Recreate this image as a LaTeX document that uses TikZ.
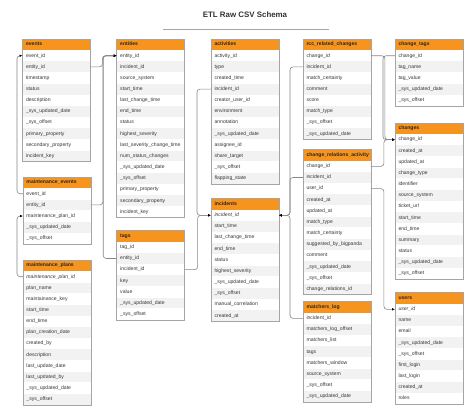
\documentclass[tikz,border=0pt]{standalone}
\usepackage{fontspec}
\setmainfont{Liberation Sans}
\usetikzlibrary{positioning,arrows.meta}

\definecolor{headorange}{RGB}{247,148,30}
\definecolor{rowgray}{RGB}{242,242,242}
\definecolor{framegray}{RGB}{165,165,165}
\definecolor{linkgray}{RGB}{135,135,135}
\definecolor{textgray}{RGB}{55,55,55}

% one table: name, top left corner, title, fields
\newcommand{\dbtable}[4]{%
  \node[tablehead, alias=#1-0] (#1) at (#2) {#3};
  \foreach \fieldname [count=\i] in {#4} {
    \pgfmathtruncatemacro{\prevrow}{\i-1}
    \ifodd\i \def\rowfill{white}\else\def\rowfill{rowgray}\fi
    \node[tablerow, fill=\rowfill, below=0pt of #1-\prevrow] (#1-\i) {\fieldname};
    \xdef\lastfield{#1-\i}
  }
  \draw[tableframe] (#1.north west) rectangle (\lastfield.south east);
}

\begin{document}
\begin{tikzpicture}[
x=1pt, y=-1pt,
tablerow/.style={anchor=north, text width=60.9pt, inner xsep=3.3pt, inner ysep=0pt,
  minimum height=10.75pt, text height=3.8pt, text depth=1.1pt, align=left,
  text=textgray, font=\fontsize{5.1pt}{6pt}\selectfont},
tablehead/.style={tablerow, anchor=north west, fill=headorange, text=black!85,
  font=\fontsize{5.1pt}{6pt}\selectfont\bfseries},
tableframe/.style={draw=framegray, line width=0.6pt},
link/.style={draw=linkgray, line width=0.6pt, rounded corners=3pt,
  -{Latex[length=3pt,width=2.6pt,color=black]}},
title/.style={font=\fontsize{7.9pt}{9pt}\selectfont\bfseries, text=black!80}
]
\path[use as bounding box, fill=white] (0,0) rectangle (474,412);

%Title
\node[title] (title) at (245,15) {ETL Raw CSV Schema};
\draw[framegray, line width=0.5pt] (163,29) -- (329,29);

%Tables
\dbtable{events}{22.5,39}{events}{event\_id, entity\_id, timestamp, status, description,
  \_sys\_updated\_date, \_sys\_offset, primary\_property, secondary\_property, incident\_key}
\dbtable{entities}{116.7,39}{entities}{entity\_id, incident\_id, source\_system, start\_time,
  last\_change\_time, end\_time, status, highest\_severity, last\_severity\_change\_time,
  num\_status\_changes, \_sys\_updated\_date, \_sys\_offset, primary\_property,
  secondary\_property, incident\_key}
\dbtable{activities}{211,39}{activities}{activity\_id, type, created\_time, incident\_id,
  creator\_user\_id, environment, annotation, \_sys\_updated\_date, assignee\_id,
  share\_target, \_sys\_offset, flapping\_state}
\dbtable{rcc}{303,39}{rcc\_related\_changes}{change\_id, incident\_id, match\_certainty,
  comment, score, match\_type, \_sys\_offset, \_sys\_updated\_date}
\dbtable{changetags}{395,39}{change\_tags}{change\_id, tag\_name, tag\_value,
  \_sys\_updated\_date, \_sys\_offset}
\dbtable{changes}{395,122.9}{changes}{change\_id, created\_at, updated\_at, change\_type,
  identifier, source\_system, ticket\_url, start\_time, end\_time, summary, status,
  \_sys\_updated\_date, \_sys\_offset}
\dbtable{relact}{303,149.6}{change\_relations\_activity}{change\_id, incident\_id, user\_id,
  created\_at, updated\_at, match\_type, match\_certainty, suggested\_by\_bigpanda, comment,
  \_sys\_updated\_date, \_sys\_offset, change\_relations\_id}
\dbtable{mevents}{23,177}{maintenance\_events}{event\_id, entity\_id, maintenance\_plan\_id,
  \_sys\_updated\_date, \_sys\_offset}
\dbtable{mplans}{23,260}{maintenance\_plans}{\textit{maintenance\_plan\_id}, plan\_name,
  maintainance\_key, start\_time, end\_time, plan\_creation\_date, created\_by, description,
  last\_update\_date, last\_updated\_by, \_sys\_updated\_date, \_sys\_offset}
\dbtable{tags}{116.7,230.6}{tags}{tag\_id, entity\_id, incident\_id, key, value,
  \_sys\_updated\_date, \_sys\_offset}
\dbtable{incidents}{211,198.6}{incidents}{\textit{incident\_id}, start\_time,
  last\_change\_time, end\_time, status, highest\_severity, \_sys\_updated\_date,
  \_sys\_offset, manual\_correlation, created\_at}
\dbtable{matchers}{303,301.6}{matchers\_log}{incident\_id, matchers\_log\_offset,
  matchers\_list, tags, matchers\_window, source\_system, \_sys\_offset, \_sys\_updated\_date}
\dbtable{users}{395,292.6}{users}{\textit{user\_id}, name, email, \_sys\_updated\_date,
  \_sys\_offset, first\_login, last\_login, created\_at, roles}

%Links
\draw[link] (mevents-1.west) -- ++(-6,0) |- (events-1.west);
\draw[link] (mplans-1.west) -- ++(-6,0) |- (mevents-3.west);
\draw[link] (events-2.east) -- ++(12,0) |- (entities-1.west);
\draw[link] (mevents-2.east) -- ++(12,0) |- (entities-1.west);
\draw[link] (tags-2.west) -- ++(-13.5,0) |- (entities-1.west);
\draw[link] (activities-4.west) -- ++(-14,0) |- (incidents-1.west);
\draw[link] (tags-3.east) -- ++(13,0) |- (incidents-1.west);
\draw[link] (rcc-2.west) -- ++(-13,0) |- (incidents-1.east);
\draw[link] (relact-2.west) -- ++(-13,0) |- (incidents-1.east);
\draw[link] (matchers-1.west) -- ++(-13,0) |- (incidents-1.east);
\draw[link] (rcc-1.east) -- ++(14,0) |- (changes-1.west);
\draw[link] (changetags-1.west) -- ++(-12,0) |- (changes-1.west);
\draw[link] (relact-1.east) -- ++(13,0) |- (changes-1.west);
\draw[link] (relact-3.east) -- ++(13,0) |- (users-1.west);
\end{tikzpicture}
\end{document}
